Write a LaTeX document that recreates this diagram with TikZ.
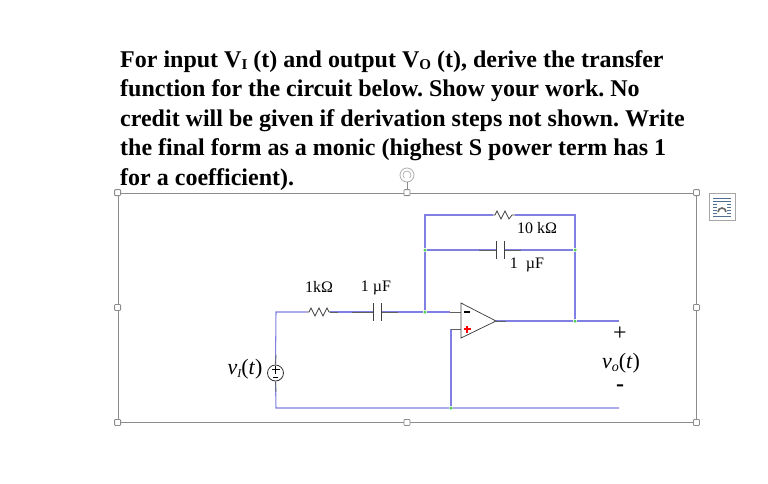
\documentclass[tikz,border=0pt]{standalone}
\usepackage{fontspec}
\setmainfont{Liberation Serif}
\frenchspacing
\definecolor{wireblue}{HTML}{8080E4}
\definecolor{leadgray}{HTML}{606060}
\definecolor{framegray}{HTML}{8C8C8C}
\definecolor{dotgreen}{HTML}{50D050}
\definecolor{iconblue}{HTML}{4F6F94}
\newcommand{\smallsub}[1]{\raisebox{-2.5pt}{\fontsize{15}{15}\selectfont #1}}
\tikzset{
  x=1pt,y=-1pt,
  wire/.style={draw=wireblue,line width=1.05pt},
  lead/.style={draw=leadgray,line width=0.85pt},
  part/.style={draw=black!75,line width=0.75pt,line join=miter},
  dotmark/.style={circle,fill=dotgreen,inner sep=0pt,minimum size=3pt},
  handle/.style={draw=framegray,fill=white,line width=0.8pt,inner sep=0pt,minimum size=6pt,rounded corners=0.8pt},
  prose/.style={anchor=base west,inner sep=0pt,font=\fontsize{24}{29}\selectfont\bfseries},
  label/.style={inner sep=0pt,font=\fontsize{16}{18}\selectfont},
  signal/.style={inner sep=0pt,font=\fontsize{22}{24}\selectfont},
  iconline/.style={draw=iconblue,line width=0.8pt}
}
\begin{document}
\begin{tikzpicture}
\useasboundingbox (0,0) rectangle (768,483);
\fill[white] (0,0) rectangle (768,483);

% prose
\node[prose] (l1) at (120,67) {For input V\smallsub{I} (t) and output V\smallsub{O} (t), derive the transfer};
\node[prose] (l2) at (120,96) {function for the circuit below. Show your work. No};
\node[prose] (l3) at (120,126) {credit will be given if derivation steps not shown. Write};
\node[prose] (l4) at (120,155) {the final form as a monic (highest S power term has 1};
\node[prose] (l5) at (120,185) {for a coefficient).};

% selection frame
\node[draw=framegray,line width=0.8pt,minimum width=578pt,minimum height=229pt,inner sep=0pt] (frame) at (407,307.5) {};
\foreach \a/\n in {north west/nw,north/nn,north east/ne,west/ww,east/ee,south west/sw,south/ss,south east/se}
  \node[handle] (h\n) at (frame.\a) {};
\node[circle,draw=framegray!70,line width=0.8pt,minimum size=14pt,inner sep=0pt] (rot) at (407,175) {};
\draw[framegray,line width=0.8pt] (rot) -- (hnn);
\draw[framegray!70,line width=0.7pt] (407,175) ++(-50:4pt) arc[start angle=-50,end angle=230,radius=4pt];

% layout icon
\node[draw=black!35,fill=white,minimum width=26pt,minimum height=27pt,inner sep=0pt,line width=0.7pt] (icon) at (722,207) {};
\foreach \yy in {198,201} \draw[iconline] (713,\yy) -- (731,\yy);
\foreach \yy in {204,207,210,213} {\draw[iconline] (713,\yy) -- (717,\yy); \draw[iconline] (727,\yy) -- (731,\yy);}
\draw[iconline] (713,216) -- (731,216);
\draw[black!60,line width=1.6pt] (718,212) arc[start angle=180,end angle=0,radius=4pt];

% circuit coordinates
\coordinate (tl) at (276,312);
\coordinate (bl) at (276,408);
\coordinate (bend) at (619,408);
\coordinate (fbtl) at (425,215);
\coordinate (fbtr) at (575,215);
\coordinate (outend) at (619,321);
\coordinate (plusbend) at (451,329);
\node[dotmark] (jcl) at (425,250) {};
\node[dotmark] (jcr) at (575,250) {};
\node[dotmark] (jin) at (425,312) {};
\node[dotmark] (jout) at (575,321) {};
\node[dotmark] (jgnd) at (451,408) {};
\coordinate (opm) at (461,312);
\coordinate (opp) at (461,329);
\coordinate (opo) at (496,321);
\coordinate (r1a) at (307,312); \coordinate (r1b) at (330,312);
\coordinate (c1a) at (373,312); \coordinate (c1b) at (381,312);
\coordinate (r2a) at (493,215); \coordinate (r2b) at (515,215);
\coordinate (c2a) at (496,250); \coordinate (c2b) at (504,250);
\node[circle,draw=black!80,line width=0.8pt,minimum size=16pt,inner sep=0pt] (src) at (275.5,373) {};

% wires
\draw[wire] (src.north) -- (tl) -- (r1a);
\draw[wire] (r1b) -- (c1a);
\draw[wire] (c1b) -- (jin);
\draw[wire] (jin) -- (450,312);
\draw[wire] (src.south) -- (bl) -- (jgnd) -- (bend);
\draw[wire] (jin) -- (jcl) -- (fbtl) -- (r2a);
\draw[wire] (r2b) -- (fbtr) -- (jcr) -- (jout);
\draw[wire] (jcl) -- (c2a);
\draw[wire] (c2b) -- (jcr);
\draw[wire] (opo) -- (jout) -- (outend);
\draw[wire] (jgnd) -- (plusbend);

% grey leads
\draw[lead] (450,312) -- (opm);
\draw[lead] (plusbend) -- (opp);
\draw[lead] (opo) -- (506,321);
\draw[lead] (r1b) -- (338,312);
\draw[lead] (352,312) -- (c1a);
\draw[lead] (c1b) -- (398,312);
\draw[lead] (479,250) -- (c2a);
\draw[lead] (c2b) -- (521,250);
\draw[lead] (src.north) -- (276,355);
\draw[lead] (src.south) -- (276,392);

% resistors
\draw[part] (r1a) -- (309,312) -- (311,308) -- (315,316) -- (319,308) -- (323,316) -- (327,308) -- (329,312) -- (r1b);
\draw[part] (r2a) -- (495,215) -- (497,211) -- (501,219) -- (505,211) -- (509,219) -- (512,215) -- (r2b);

% capacitors
\draw[part] (373,303) -- (373,321);
\draw[part] (381,303) -- (381,321);
\draw[part] (496,241) -- (496,259);
\draw[part] (504,241) -- (504,259);

% op-amp
\draw[part,fill=white] (461,303) -- (opo) -- (461,338) -- cycle;
\draw[black,line width=1.3pt] (464,312) -- (470,312);
\draw[red,line width=1.3pt] (463.5,329) -- (470.5,329) (467,325.5) -- (467,332.5);

% source marks
\draw[black,line width=1pt] (271.5,369.5) -- (279.5,369.5) (275.5,365.5) -- (275.5,373.5);
\draw[black,line width=1pt] (273,377.5) -- (278,377.5);

% dots on top
\foreach \d in {jcl,jcr,jin,jout,jgnd} \node[dotmark] at (\d) {};

% labels
\node[label] (t10k) at (537,228) {10 kΩ};
\node[label] (t1uf) at (527,265) {1\ \ µF};
\node[label] (t1k) at (319,287) {1kΩ};
\node[label] (t1ufb) at (376,288) {1 µF};
\node[signal] (tvi) at (245,369) {\textit{v\raisebox{-3pt}{\fontsize{12}{12}\selectfont I}}(\textit{t})};
\node[signal] (tvo) at (621,363) {\textit{v\raisebox{-3pt}{\fontsize{14}{14}\selectfont o}}(\textit{t})};
\node[signal,font=\fontsize{24}{24}\selectfont] (tp) at (620,334) {+};
\node[signal,font=\fontsize{24}{24}\selectfont\bfseries] (tm) at (620,388) {-};
\end{tikzpicture}
\end{document}
